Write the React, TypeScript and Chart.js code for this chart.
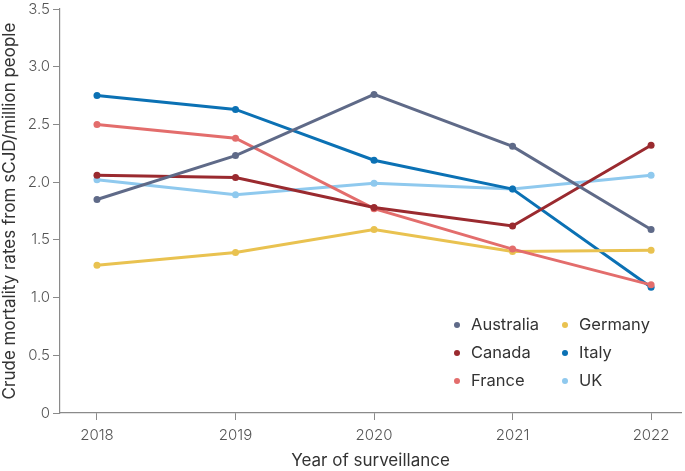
import { useEffect, useRef } from "react"
import { Chart, registerables } from "chart.js"

Chart.register(...registerables)

const years = [2018, 2019, 2020, 2021, 2022]
const countries = ["Australia", "Canada", "France", "Germany", "Italy", "UK"]
const colors = ["#5f6a88", "#9a2a2f", "#e36d6c", "#e9c250", "#0b71b4", "#8fc9ee"]

const australia = [1.85, 2.23, 2.76, 2.31, 1.59]
const canada = [2.06, 2.04, 1.78, 1.62, 2.32]
const france = [2.5, 2.38, 1.77, 1.42, 1.11]
const germany = [1.28, 1.39, 1.59, 1.4, 1.41]
const italy = [2.75, 2.63, 2.19, 1.94, 1.09]
const uk = [2.02, 1.89, 1.99, 1.94, 2.06]

const series = [australia, canada, france, germany, italy, uk]

const yTicks = [0, 0.5, 1, 1.5, 2, 2.5, 3, 3.5]

const FONT = "Inter, 'Noto Sans', sans-serif"

// legend drawn inside the plot, two columns x three rows
const insideLegend = {
  id: "insideLegend",
  afterDraw(chart: Chart) {
    const ctx = chart.ctx
    const area = chart.chartArea
    const colX = [area.right - 224, area.right - 116]
    const rowY = [area.bottom - 88, area.bottom - 60, area.bottom - 32]
    ctx.save()
    ctx.font = `16.5px ${FONT}`
    ctx.textBaseline = "middle"
    chart.data.datasets.forEach((ds, i) => {
      const col = Math.floor(i / 3)
      const row = i % 3
      const x = colX[col]
      const y = rowY[row]
      ctx.fillStyle = ds.borderColor as string
      ctx.beginPath()
      ctx.arc(x, y, 3, 0, Math.PI * 2)
      ctx.fill()
      ctx.fillStyle = "#333"
      ctx.fillText(ds.label ?? "", x + 14, y)
    })
    ctx.restore()
  },
}

export default function App() {
  const chartRef = useRef<HTMLCanvasElement>(null)
  const chartInstance = useRef<Chart | null>(null)

  useEffect(() => {
    if (!chartRef.current) return
    if (chartInstance.current) chartInstance.current.destroy()

    const ctx = chartRef.current.getContext("2d")
    if (!ctx) return

    chartInstance.current = new Chart(ctx, {
      type: "line",
      data: {
        datasets: countries.map((name, i) => ({
          label: name,
          data: years.map((yr, j) => ({ x: yr, y: series[i][j] })),
          borderColor: colors[i],
          backgroundColor: colors[i],
          borderWidth: 3,
          pointRadius: 3.5,
          pointBorderWidth: 0,
          tension: 0,
        })),
      },
      options: {
        responsive: true,
        maintainAspectRatio: false,
        animation: false,
        layout: { padding: { top: 9, right: 0, left: 0, bottom: 0 } },
        plugins: {
          legend: { display: false },
          tooltip: { enabled: false },
        },
        scales: {
          x: {
            type: "linear",
            min: 2017.733,
            max: 2022.216,
            afterFit: (scale) => {
              scale.height = 58
            },
            afterBuildTicks: (scale) => {
              scale.ticks = years.map((v) => ({ value: v }))
            },
            border: { display: true, color: "#8a8a8a", width: 1.2 },
            grid: {
              display: true,
              drawOnChartArea: false,
              drawTicks: true,
              tickLength: 7,
              color: "#8a8a8a",
            },
            ticks: {
              color: "#555",
              font: { family: FONT, size: 15, weight: 300 },
              padding: 6,
              callback: (v) => String(v),
            },
            title: {
              display: true,
              text: "Year of surveillance",
              color: "#333",
              font: { family: FONT, size: 17 },
              padding: { top: 3, bottom: 0 },
            },
          },
          y: {
            min: 0,
            max: 3.5,
            afterFit: (scale) => {
              scale.width = 60
              scale.paddingTop = 0
              scale.paddingBottom = 0
            },
            afterBuildTicks: (scale) => {
              scale.ticks = yTicks.map((v) => ({ value: v }))
            },
            border: { display: true, color: "#8a8a8a", width: 1.2 },
            grid: {
              display: true,
              drawOnChartArea: false,
              drawTicks: true,
              tickLength: 7,
              color: "#8a8a8a",
            },
            ticks: {
              color: "#555",
              font: { family: FONT, size: 15, weight: 300 },
              padding: 3,
              callback: (v) => (Number(v) === 0 ? "0" : Number(v).toFixed(1)),
            },
            title: {
              display: true,
              text: "Crude mortality rates from sCJD/million people",
              color: "#333",
              font: { family: FONT, size: 17 },
              padding: { top: 0, bottom: 1 },
            },
          },
        },
      },
      plugins: [insideLegend],
    })

    return () => {
      if (chartInstance.current) {
        chartInstance.current.destroy()
        chartInstance.current = null
      }
    }
  }, [])

  return (
    <div style={{ position: "absolute", left: 0, top: 0, width: 685, height: 471, background: "#fff" }}>
      <canvas ref={chartRef} />
    </div>
  )
}
